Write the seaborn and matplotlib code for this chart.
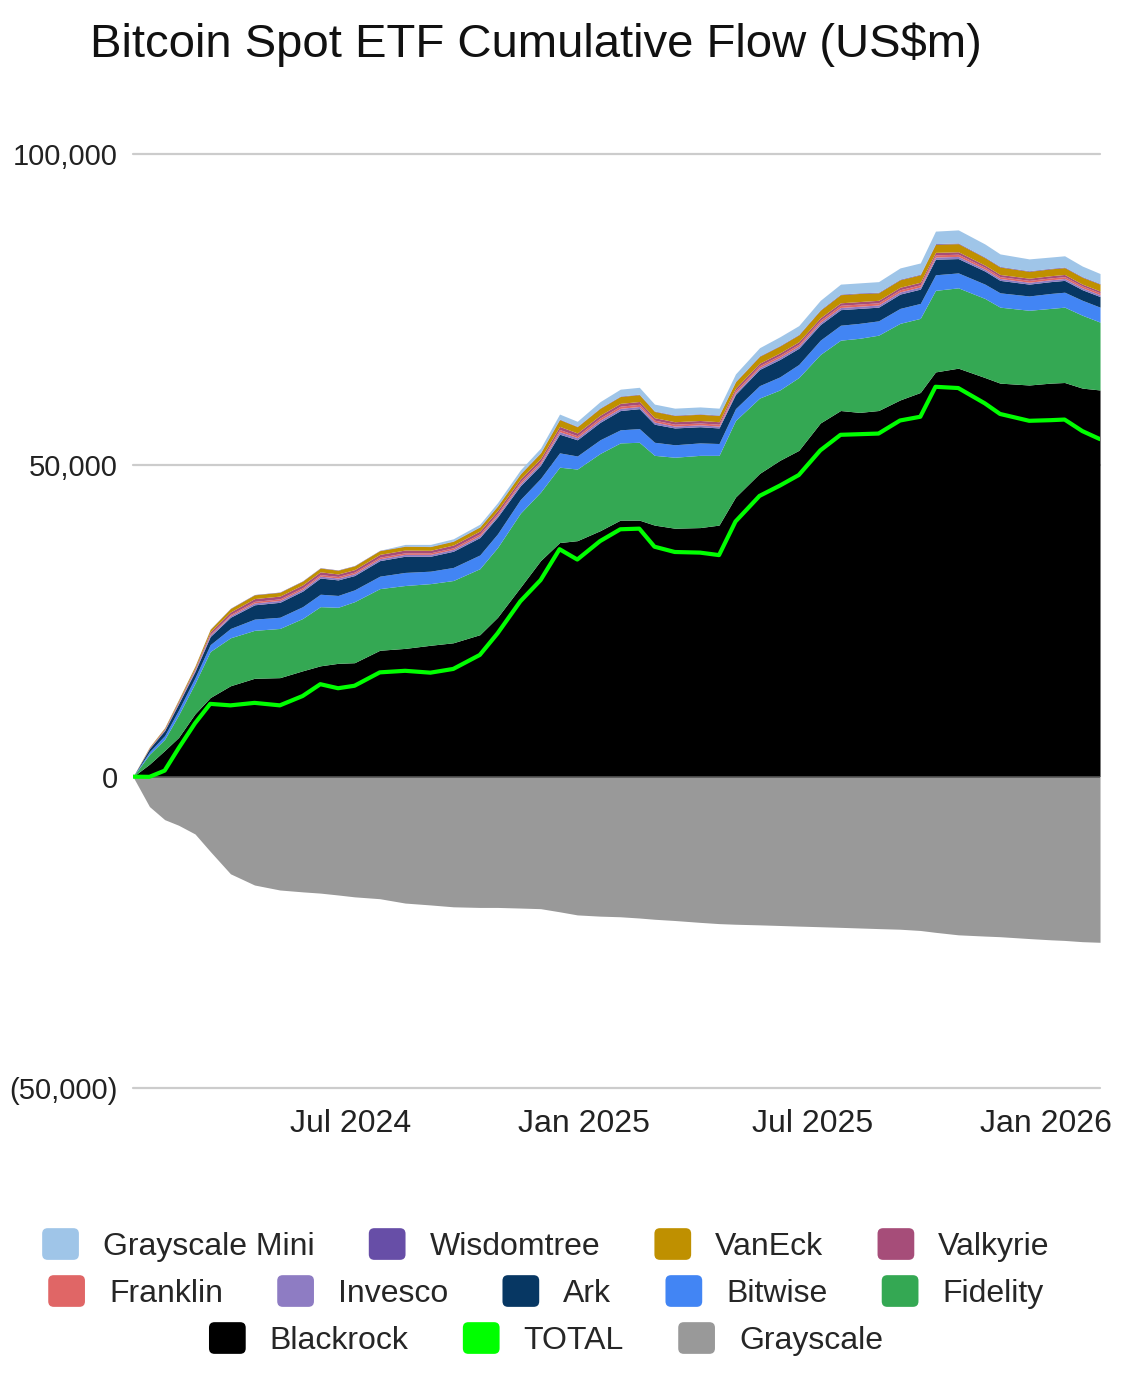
import numpy as np
import pandas as pd
import matplotlib.pyplot as plt
import matplotlib.dates as mdates
from matplotlib.patches import Patch, FancyBboxPatch
from matplotlib.legend_handler import HandlerPatch
from matplotlib.ticker import FuncFormatter
import seaborn as sns

sns.set_theme(style="white")
plt.rcParams['font.family'] = ['Liberation Sans', 'DejaVu Sans']

# cumulative flows in US$m
dates = ["2024-01-11", "2024-01-24", "2024-02-05", "2024-02-16", "2024-02-29", "2024-03-12",
         "2024-03-28", "2024-04-16", "2024-05-06", "2024-05-24", "2024-06-07", "2024-06-21",
         "2024-07-04", "2024-07-24", "2024-08-13", "2024-09-02", "2024-09-20", "2024-10-11",
         "2024-10-25", "2024-11-12", "2024-11-28", "2024-12-13", "2024-12-27", "2025-01-14",
         "2025-01-30", "2025-02-14", "2025-02-26", "2025-03-14", "2025-04-03", "2025-04-18",
         "2025-05-01", "2025-05-20", "2025-06-05", "2025-06-20", "2025-07-07", "2025-07-23",
         "2025-08-07", "2025-08-22", "2025-09-08", "2025-09-24", "2025-10-06", "2025-10-24",
         "2025-11-14", "2025-11-26", "2025-12-19", "2026-01-05", "2026-01-16", "2026-01-30",
         "2026-02-13"]

blackrock = [0, 2000, 4200, 6300, 10100, 12700, 14600, 15800, 15900, 17000, 17800, 18200, 18300,
             20300, 20600, 21100, 21500, 22800, 25600, 30400, 34700, 37600, 37900, 39500, 41200,
             41200, 40400, 39900, 40000, 40400, 44900, 48700, 50800, 52400, 56800, 58800, 58500,
             58800, 60500, 61700, 65000, 65600, 64100, 63200, 62900, 63200, 63300, 62400, 62100]
fidelity = [0, 1600, 1800, 3600, 4900, 7400, 7700, 7700, 7900, 8400, 9500, 9000, 9800,
            9900, 10100, 9900, 10000, 10600, 11200, 11900, 11000, 12100, 11500, 12400, 12400,
            12500, 11200, 11400, 11600, 11200, 12300, 12100, 11300, 11700, 11000, 11300, 11900,
            12100, 12300, 11900, 13100, 12900, 12700, 12200, 12000, 12000, 12100, 11700, 10900]
bitwise = [0, 400, 600, 800, 900, 1100, 1500, 1800, 1800, 1900, 2000, 1900, 1900,
           2000, 2100, 2000, 2100, 2200, 2200, 2200, 2200, 2300, 2100, 2200, 2100,
           2200, 2100, 2000, 2000, 1900, 1900, 2000, 2100, 2100, 2300, 2400, 2400,
           2300, 2400, 2400, 2500, 2400, 2300, 2300, 2300, 2400, 2400, 2400, 2400]
ark = [0, 500, 800, 1000, 1000, 1300, 1800, 2300, 2400, 2500, 2600, 2500, 2300,
       2500, 2600, 2400, 2600, 2800, 2700, 2200, 2100, 3000, 2600, 2800, 3100,
       3200, 2900, 2700, 2600, 2500, 2300, 2600, 2800, 2600, 2500, 2500, 2400,
       2200, 2300, 2300, 2500, 2300, 2100, 2000, 1900, 1900, 1900, 1700, 1700]
invesco = [0, 50, 100, 150, 200, 250, 250, 300, 300, 300, 300, 300, 300,
           300, 300, 300, 300, 300, 300, 350, 350, 400, 350, 350, 350,
           350, 350, 300, 300, 300, 300, 300, 350, 350, 350, 350, 350,
           350, 350, 350, 350, 350, 300, 300, 300, 300, 300, 300, 300]
franklin = [0, 30, 50, 80, 100, 150, 200, 250, 250, 250, 250, 250, 250,
            250, 250, 250, 250, 300, 300, 300, 300, 350, 300, 350, 350,
            350, 300, 300, 300, 300, 300, 300, 300, 300, 350, 350, 350,
            350, 350, 350, 350, 350, 300, 300, 300, 300, 300, 300, 300]
valkyrie = [0, 80, 150, 200, 250, 350, 400, 450, 450, 450, 450, 400, 400,
            450, 450, 400, 450, 450, 450, 450, 450, 500, 450, 450, 450,
            450, 400, 400, 400, 400, 400, 400, 400, 400, 400, 400, 400,
            400, 400, 400, 400, 400, 350, 350, 350, 350, 350, 300, 300]
vaneck = [0, 100, 150, 200, 300, 400, 550, 600, 600, 600, 600, 600, 600,
          600, 600, 600, 600, 650, 700, 800, 900, 1100, 1000, 1100, 1100,
          1100, 1000, 1000, 1000, 1000, 1000, 1100, 1100, 1100, 1200, 1300, 1300,
          1200, 1200, 1200, 1300, 1300, 1200, 1200, 1100, 1100, 1100, 1100, 1100]
wisdomtree = [0, 10, 20, 30, 30, 40, 50, 50, 50, 50, 50, 50, 50,
              50, 50, 50, 50, 50, 60, 60, 70, 80, 70, 80, 80,
              80, 80, 80, 80, 80, 80, 90, 90, 90, 100, 100, 100,
              100, 100, 100, 110, 110, 100, 100, 100, 100, 100, 100, 100]
grayscale_mini = [0, 0, 0, 0, 0, 0, 0, 0, 0, 0, 0, 0, 0,
                  0, 250, 300, 350, 400, 500, 600, 700, 800, 800, 1000, 1100,
                  1100, 1100, 1100, 1100, 1100, 1200, 1300, 1400, 1400, 1500, 1600, 1600,
                  1700, 1800, 1800, 2000, 2100, 2100, 2000, 1900, 1800, 1800, 1700, 1600]
grayscale = [0, -4800, -6900, -7800, -9200, -12000, -15600, -17400, -18200, -18500, -18700, -19000, -19300,
             -19600, -20300, -20600, -20900, -21000, -21000, -21100, -21200, -21700, -22200, -22400, -22500,
             -22700, -22900, -23100, -23400, -23600, -23700, -23800, -23900, -24000, -24100, -24200, -24300,
             -24400, -24500, -24700, -25000, -25400, -25600, -25700, -26000, -26200, -26300, -26500, -26600]

stack_order = ["Blackrock", "Fidelity", "Bitwise", "Ark", "Invesco", "Franklin",
               "Valkyrie", "VanEck", "Wisdomtree", "Grayscale Mini"]
colors = {"Grayscale Mini": "#9fc5e8", "Wisdomtree": "#674ea7", "VanEck": "#bf9000",
          "Valkyrie": "#a64d79", "Franklin": "#e06666", "Invesco": "#8e7cc3",
          "Ark": "#073763", "Bitwise": "#4285f4", "Fidelity": "#34a853",
          "Blackrock": "#000000", "TOTAL": "#00ff00", "Grayscale": "#999999"}

df = pd.DataFrame({"Date": pd.to_datetime(dates), "Blackrock": blackrock, "Fidelity": fidelity,
                   "Bitwise": bitwise, "Ark": ark, "Invesco": invesco, "Franklin": franklin,
                   "Valkyrie": valkyrie, "VanEck": vaneck, "Wisdomtree": wisdomtree,
                   "Grayscale Mini": grayscale_mini, "Grayscale": grayscale})
df["TOTAL"] = df[stack_order + ["Grayscale"]].sum(axis=1)

fig = plt.figure(figsize=(11.28, 13.76), dpi=100)
ax = fig.add_axes([0.1179, 0.2093, 0.8573, 0.6788])

for v in [-50000, 50000, 100000]:
    ax.axhline(v, color="#cccccc", lw=1.6, zorder=0, clip_on=False)

ax.stackplot(df["Date"], [df[c] for c in stack_order],
             colors=[colors[c] for c in stack_order], linewidth=0, zorder=1)
ax.fill_between(df["Date"], df["Grayscale"], 0, color=colors["Grayscale"], linewidth=0, zorder=1)
ax.axhline(0, color="#555555", lw=1.2, zorder=2)
sns.lineplot(data=df, x="Date", y="TOTAL", color=colors["TOTAL"], lw=3, ax=ax, legend=False, zorder=3)

ax.set_xlim(pd.Timestamp("2024-01-11"), pd.Timestamp("2026-02-13"))
ax.set_ylim(-50000, 100000)
ax.set_yticks([-50000, 0, 50000, 100000])
ax.yaxis.set_major_formatter(FuncFormatter(lambda v, p: f"({abs(v):,.0f})" if v < 0 else f"{v:,.0f}"))
ax.set_xticks(pd.to_datetime(["2024-07-01", "2025-01-01", "2025-07-01", "2026-01-01"]))
ax.xaxis.set_major_formatter(mdates.DateFormatter("%b %Y"))
ax.tick_params(axis="y", labelsize=21, length=0, pad=11, colors="#222222")
ax.tick_params(axis="x", labelsize=23, length=0, pad=15, colors="#222222")
ax.set_xlabel("")
ax.set_ylabel("")
for s in ax.spines.values():
    s.set_visible(False)

fig.text(90 / 1128, 1 - 45 / 1376, "Bitcoin Spot ETF Cumulative Flow (US$m)",
         fontsize=34, ha="left", va="center", color="#111111")


class RoundBox(HandlerPatch):
    def create_artists(self, legend, orig_handle, xdescent, ydescent, width, height, fontsize, trans):
        p = FancyBboxPatch((-xdescent, -ydescent), width, height,
                           boxstyle="round,pad=0,rounding_size=4",
                           facecolor=orig_handle.get_facecolor(), edgecolor="none", transform=trans)
        return [p]


rows = [["Grayscale Mini", "Wisdomtree", "VanEck", "Valkyrie"],
        ["Franklin", "Invesco", "Ark", "Bitwise", "Fidelity"],
        ["Blackrock", "TOTAL", "Grayscale"]]
row_y = [1245, 1292, 1339]
for names, y in zip(rows, row_y):
    handles = [Patch(facecolor=colors[n]) for n in names]
    fig.legend(handles, names, loc="center", bbox_to_anchor=(0.484, 1 - y / 1376),
               ncol=len(names), frameon=False, fontsize=23, handlelength=1.15,
               handleheight=1.15, handletextpad=0.75, columnspacing=1.7,
               handler_map={Patch: RoundBox()})

fig.savefig("out.png", dpi=100)
